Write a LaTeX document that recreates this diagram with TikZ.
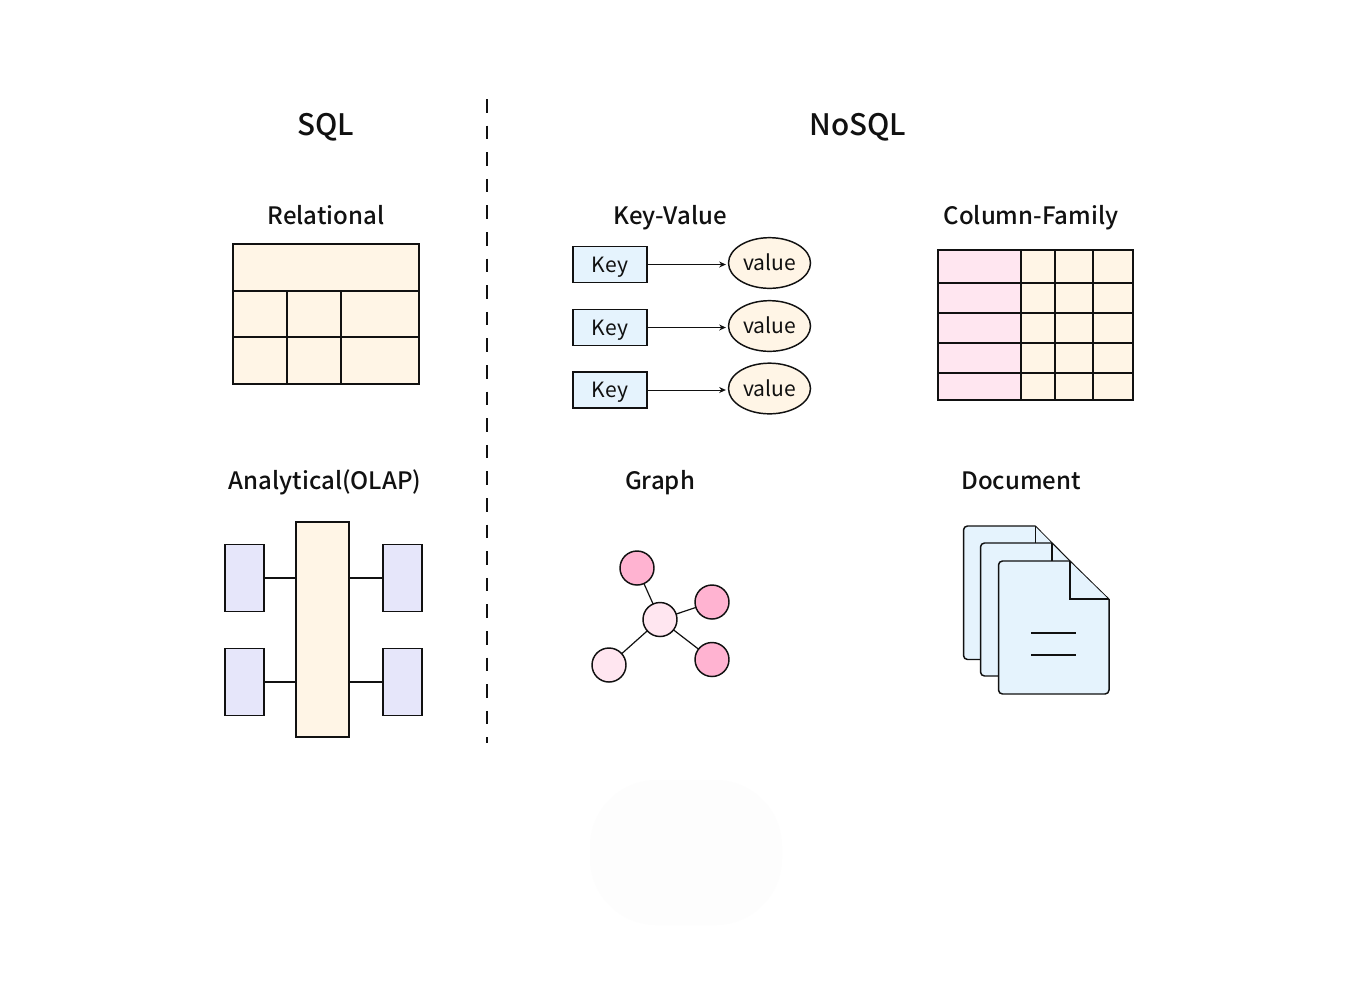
\documentclass[tikz,border=0pt]{standalone}
\usepackage{fontspec}
\setmainfont{Noto Sans CJK SC}
\usetikzlibrary{arrows.meta,shapes.geometric}
\definecolor{ink}{HTML}{111111}
\definecolor{cream}{HTML}{FFF5E6}
\definecolor{sky}{HTML}{E5F3FD}
\definecolor{blush}{HTML}{FFE6F0}
\definecolor{hotpink}{HTML}{FFB3D1}
\definecolor{lilac}{HTML}{E6E6FA}
\definecolor{ghost}{HTML}{FDFDFD}
\newfontfamily\headfont{Noto Sans CJK SC Medium}
\begin{document}
\begin{tikzpicture}[x=0.75pt,y=-0.75pt,line width=1.1pt,draw=ink,
  every node/.style={inner sep=0pt,outer sep=0pt},
  title/.style={anchor=base,font=\headfont\fontsize{22.2}{28}\selectfont,text=ink},
  sub/.style={anchor=base,font=\headfont\fontsize{18}{22}\selectfont,text=ink},
  txt/.style={font=\fontsize{15.8}{20}\selectfont,text=ink,text height=11.3pt,text depth=0pt},
  keybox/.style={draw=ink,fill=sky,minimum width=55.2pt,minimum height=27.2pt,txt},
  valnode/.style={draw=ink,ellipse,fill=cream,minimum width=61.5pt,minimum height=38pt,txt},
  side/.style={draw=ink,fill=lilac,minimum width=29pt,minimum height=50.6pt},
  hub/.style={draw=ink,fill=cream,minimum width=39.6pt,minimum height=161pt},
  gfull/.style={draw=ink,circle,fill=hotpink,minimum size=25.5pt},
  glight/.style={draw=ink,circle,fill=blush,minimum size=25.5pt},
  sheet/.style={draw=ink,fill=sky,rounded corners=3pt},
  arr/.style={-{Stealth[length=5pt,width=4.5pt]},line width=0.7pt},
  wire/.style={line width=0.9pt}]
\useasboundingbox (0,0) rectangle (1358,986);
\fill[white] (0,0) rectangle (1358,986);

% faint mark at the bottom
\fill[ghost,rounded corners=50pt] (590,780) rectangle (782,925);

% divider
\coordinate (divtop) at (487,99);
\coordinate (divbot) at (487,743);
\draw[line width=0.8pt,dash pattern=on 10.2pt off 9.75pt] (divtop) -- (divbot);

% headings
\node[title] (sql) at (325.5,135) {SQL};
\node[title] (nosql) at (858,135) {NoSQL};
\node[sub] (rel) at (326,224) {Relational};
\node[sub] (kv) at (670,224) {Key-Value};
\node[sub] (cf) at (1031,224) {Column-Family};
\node[sub] (olap) at (325,489) {Analytical(OLAP)};
\node[sub] (graph) at (660,489) {Graph};
\node[sub] (docu) at (1021,489) {Document};

% relational table
\draw[fill=cream] (233,244) rectangle (419,384);
\draw (233,291) -- (419,291);
\draw (233,337) -- (419,337);
\draw (287,291) -- (287,384);
\draw (341,291) -- (341,384);

% key-value
\node[keybox] (k1) at (610,264.5) {Key};
\node[keybox] (k2) at (610,327.5) {Key};
\node[keybox] (k3) at (610,390) {Key};
\node[valnode] (v1) at (769.5,263) {value};
\node[valnode] (v2) at (769.5,326) {value};
\node[valnode] (v3) at (769.5,388.5) {value};
\draw[arr] (k1.east) -- ([xshift=-2pt]v1.west |- k1.east);
\draw[arr] (k2.east) -- ([xshift=-2pt]v2.west |- k2.east);
\draw[arr] (k3.east) -- ([xshift=-2pt]v3.west |- k3.east);

% column family
\draw[fill=cream] (938,250) rectangle (1133,400);
\draw[fill=blush] (938,250) rectangle (1021,400);
\foreach \yy in {283,313,343,373} \draw[line width=1pt] (938,\yy) -- (1133,\yy);
\foreach \xx in {1055,1093} \draw[line width=1pt] (\xx,250) -- (\xx,400);

% olap
\node[hub] (fact) at (322.5,629.5) {};
\node[side] (s1) at (244.5,578) {};
\node[side] (s2) at (244.5,682) {};
\node[side] (s3) at (402.5,578) {};
\node[side] (s4) at (402.5,682) {};
\draw[wire] (s1.east) -- (s1.east -| fact.west);
\draw[wire] (s2.east) -- (s2.east -| fact.west);
\draw[wire] (s3.west) -- (s3.west -| fact.east);
\draw[wire] (s4.west) -- (s4.west -| fact.east);

% graph
\node[glight] (g0) at (660,619.5) {};
\node[gfull] (g1) at (637,568) {};
\node[gfull] (g2) at (712,602) {};
\node[gfull] (g3) at (712,659.5) {};
\node[glight] (g4) at (609,665) {};
\draw[wire] (g0) -- (g1);
\draw[wire] (g0) -- (g2);
\draw[wire] (g0) -- (g3);
\draw[wire] (g0) -- (g4);

% document stack
\draw[sheet] (1035.5,526) -- (963.5,526) -- (963.5,659.5) -- (1074,659.5) -- (1074,565);
\fill[sky] (1035.5,526) -- (1074,565) -- (1035.5,565) -- cycle;
\draw[line width=0.6pt] (1035.5,526) -- (1074,565);
\draw (1035.5,526) -- (1035.5,565);
\draw[sheet] (1052,543) -- (980.5,543) -- (980.5,676) -- (1091,676) -- (1091,582);
\fill[sky] (1052,543) -- (1091,582) -- (1052,582) -- cycle;
\draw[line width=0.6pt] (1052,543) -- (1091,582);
\draw (1052,543) -- (1052,582);
\draw[sheet] (1070,561) -- (998.5,561) -- (998.5,694) -- (1109,694) -- (1109,599);
\fill[sky] (1070,561) -- (1109,599) -- (1070,599) -- cycle;
\draw[line width=0.6pt] (1070,561) -- (1109,599);
\draw (1070,561) -- (1070,599) -- (1109,599);
\draw[line width=0.9pt] (1031,633) -- (1076,633);
\draw[line width=0.9pt] (1031,655) -- (1076,655);
\end{tikzpicture}
\end{document}
